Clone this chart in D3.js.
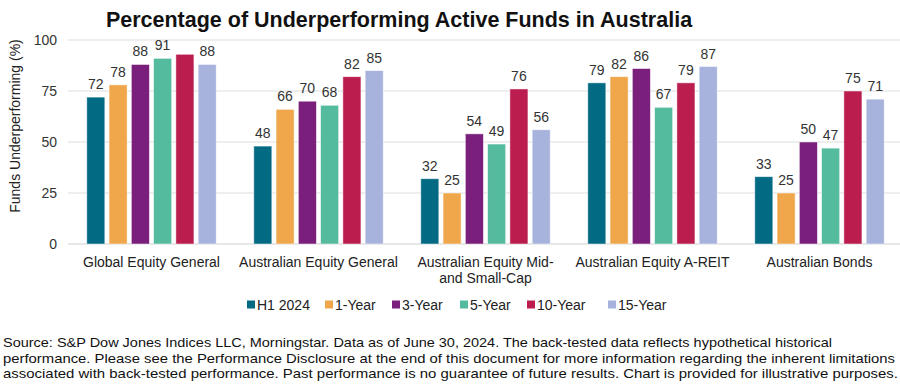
<!DOCTYPE html>
<html><head><meta charset="utf-8">
<script src="https://cdn.jsdelivr.net/npm/d3@7"></script>
<style>body{margin:0;background:#fff}svg{display:block}</style>
</head><body>
<svg id="c" width="900" height="388"></svg>
<script>
const categories = ["Global Equity General","Australian Equity General","Australian Equity Mid-\nand Small-Cap","Australian Equity A-REIT","Australian Bonds"];
const seriesNames = ["H1 2024","1-Year","3-Year","5-Year","10-Year","15-Year"];
const h1_2024 = [72,48,32,79,33];
const year1   = [78,66,25,82,25];
const year3   = [88,70,54,86,50];
const year5   = [91,68,49,67,47];
const year10  = [93,82,76,79,75];
const year15  = [88,85,56,87,71];
const hiddenLabels = [[0,4]]; // [category index, series index] with no label in the original
const yTicks = [0,25,50,75,100];
const colors = ["#036a84","#f0a64a","#7a1f7c","#55bb9e","#bb1d4e","#a8b3dd"];
const title = "Percentage of Underperforming Active Funds in Australia";
const yTitle = "Funds Underperforming (%)";
const footnote = [
 "Source: S&P Dow Jones Indices LLC, Morningstar.  Data as of June 30, 2024. The back-tested data reflects hypothetical historical",
 "performance.  Please see the Performance Disclosure at the end of this document for more information regarding the inherent limitations",
 "associated with back-tested performance.  Past performance is no guarantee of future results.  Chart is provided for illustrative purposes."
];
const seriesValues = [h1_2024,year1,year3,year5,year10,year15];

const svg = d3.select("#c");
const font = "'Liberation Sans', Arial, sans-serif";
const L = 68, R = 903, T = 40, B = 244;

const x0 = d3.scaleBand().domain(d3.range(categories.length)).range([L,R]).paddingInner(0.225).paddingOuter(0.1125);
const x1 = d3.scaleBand().domain(d3.range(seriesNames.length)).range([0,x0.bandwidth()]).paddingInner(0.19).paddingOuter(0);
const y = d3.scaleLinear().domain([0,100]).range([B,T]);

// gridlines
svg.append("g").selectAll("line").data(yTicks).join("line")
  .attr("x1",L).attr("x2",R).attr("y1",d=>y(d)).attr("y2",d=>y(d))
  .attr("stroke",d=>d===0?"#cfcfcf":"#dedede").attr("stroke-width",1.2);

// y axis labels
const yAxis = d3.axisLeft(y).tickValues(yTicks).tickSize(0).tickPadding(11);
const ga = svg.append("g").attr("transform",`translate(${L},0)`).call(yAxis);
ga.select(".domain").remove();
ga.selectAll("text").attr("font-family",font).attr("font-size",14).attr("fill","#333");

// bars
const groups = svg.append("g").selectAll("g").data(categories).join("g")
  .attr("transform",(d,i)=>`translate(${x0(i)},0)`);
groups.each(function(c,ci){
  const g = d3.select(this);
  const vals = seriesValues.map((s,si)=>({v:s[ci],si:si}));
  g.selectAll("rect").data(vals).join("rect")
    .attr("x",d=>x1(d.si)).attr("width",x1.bandwidth())
    .attr("y",d=>y(d.v)).attr("height",d=>y(0)-y(d.v))
    .attr("fill",d=>colors[d.si])
    .attr("stroke","#ffffff").attr("stroke-opacity",0.6).attr("stroke-width",0.8);
  g.selectAll("text").data(vals.filter(d=>!hiddenLabels.some(h=>h[0]===ci&&h[1]===d.si))).join("text")
    .attr("x",d=>x1(d.si)+x1.bandwidth()/2).attr("y",d=>y(d.v)-8)
    .attr("text-anchor","middle").attr("font-family",font).attr("font-size",14).attr("fill","#333")
    .text(d=>d.v);
});

// category labels
svg.append("g").selectAll("text").data(categories).join("text")
  .attr("x",(d,i)=>x0(i)+x0.bandwidth()/2).attr("y",267)
  .attr("text-anchor","middle").attr("font-family",font).attr("font-size",14).attr("fill","#222")
  .each(function(d){
    const t = d3.select(this);
    d.split("\n").forEach((line,k)=>{
      t.append("tspan").attr("x",t.attr("x")).attr("dy",k===0?0:16).text(line);
    });
  });

// title
svg.append("text").attr("x",399).attr("y",27).attr("text-anchor","middle")
  .attr("font-family",font).attr("font-size",21.5).attr("font-weight","bold").attr("fill","#111").text(title);

// y title
svg.append("text").attr("transform",`translate(20,126) rotate(-90)`).attr("text-anchor","middle")
  .attr("font-family",font).attr("font-size",14).attr("fill","#222").text(yTitle);

// legend
const legX = [247,325,392,460,527,608];
const lg = svg.append("g").selectAll("g").data(seriesNames).join("g")
  .attr("transform",(d,i)=>`translate(${legX[i]},305)`);
lg.append("rect").attr("x",0).attr("y",-4.5).attr("width",8).attr("height",8).attr("fill",(d,i)=>colors[i]);
lg.append("text").attr("x",10).attr("y",5).attr("font-family",font).attr("font-size",14).attr("fill","#222").text(d=>d);

// footnote
const fnLen = [829,892,895];
svg.append("g").selectAll("text").data(footnote).join("text")
  .attr("x",3).attr("y",(d,i)=>347+i*15.5)
  .attr("font-family","'Liberation Sans Narrow','Arial Narrow',"+font).attr("font-size",13.5).attr("fill","#111")
  .attr("textLength",(d,i)=>fnLen[i]).attr("lengthAdjust","spacingAndGlyphs")
  .text(d=>d);
</script>
</body></html>
